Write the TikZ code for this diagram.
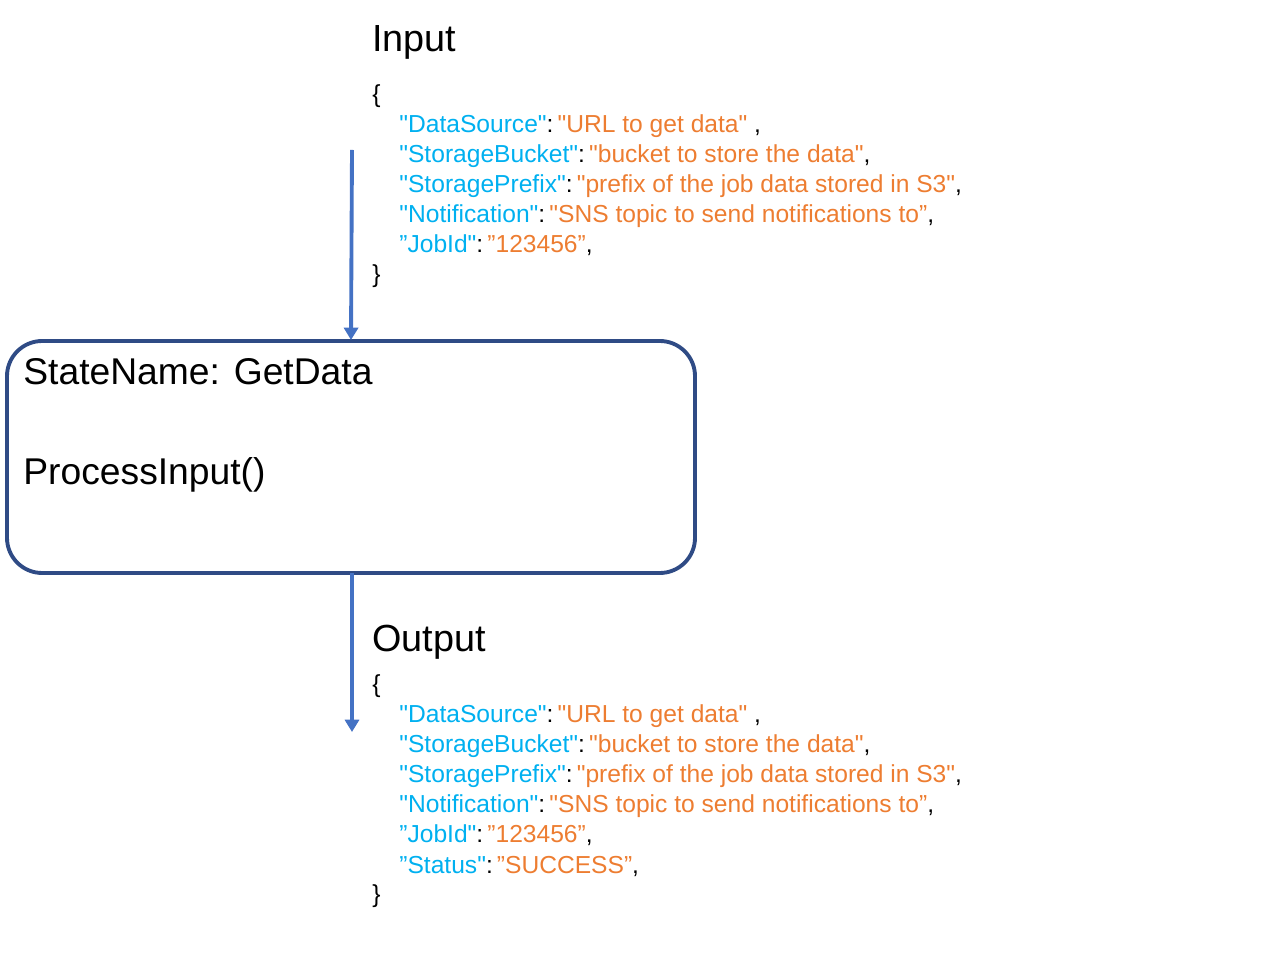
\documentclass[tikz,border=0pt]{standalone}
\usepackage{fontspec}
\setmainfont{Liberation Sans}
\usetikzlibrary{positioning,arrows.meta}
\definecolor{keyblue}{HTML}{00B0F0}
\definecolor{valorange}{HTML}{ED7D31}
\definecolor{boxblue}{HTML}{2F4B85}
\definecolor{arrowblue}{HTML}{4472C4}
\tikzset{
  title/.style={anchor=base west,inner sep=0pt,font=\fontsize{21.5}{24}\selectfont},
  line/.style={anchor=base west,inner sep=0pt,font=\fontsize{14}{16}\selectfont},
  state/.style={anchor=base west,inner sep=0pt,font=\fontsize{21.2}{24}\selectfont},
  flow/.style={draw=arrowblue,line width=2.2pt,-{Triangle[length=7pt,width=8pt]}},
}
\newcommand{\q}{\textquotedbl}
\newcommand{\kv}[2]{\textcolor{keyblue}{#1}:\,\textcolor{valorange}{#2}}
\begin{document}
\begin{tikzpicture}[x=0.02cm,y=-0.02cm]
\useasboundingbox (0,0) rectangle (1279,962);

% state box
\draw[boxblue,line width=2.2pt,rounded corners=20pt] (7,341) rectangle (695,573);
\node[state] (sname) at (23,385) {StateName: GetData};
\node[state] (proc) at (23,485) {ProcessInput()};

% input
\node[title] (input) at (372,52) {Input};
\node[line] (iopen) at (372,103) {\{};
\node[line] (i1) at (399,133) {\kv{\q DataSource\q}{\q URL to get data\q} ,};
\node[line] (i2) at (399,163) {\kv{\q StorageBucket\q}{\q bucket to store the data\q},};
\node[line] (i3) at (399,193) {\kv{\q StoragePrefix\q}{\q prefix of the job data stored in S3\q},};
\node[line] (i4) at (399,223) {\kv{\q Notification\q}{\q SNS topic to send notifications to”},};
\node[line] (i5) at (399,253) {\kv{”JobId\q}{”123456”},};
\node[line] (iclose) at (372,283) {\}};

% output
\node[title] (output) at (372,652) {Output};
\node[line] (oopen) at (372,693) {\{};
\node[line] (o1) at (399,723) {\kv{\q DataSource\q}{\q URL to get data\q} ,};
\node[line] (o2) at (399,753) {\kv{\q StorageBucket\q}{\q bucket to store the data\q},};
\node[line] (o3) at (399,783) {\kv{\q StoragePrefix\q}{\q prefix of the job data stored in S3\q},};
\node[line] (o4) at (399,813) {\kv{\q Notification\q}{\q SNS topic to send notifications to”},};
\node[line] (o5) at (399,843) {\kv{”JobId\q}{”123456”},};
\node[line] (o6) at (399,873) {\kv{”Status\q}{”SUCCESS”},};
\node[line] (oclose) at (372,903) {\}};

% arrows
\coordinate (instart) at (352,150);
\coordinate (inend) at (351,340);
\coordinate (outstart) at (352,573);
\coordinate (outend) at (352,732);
\draw[flow] (instart) -- (inend);
\draw[flow] (outstart) -- (outend);
\end{tikzpicture}
\end{document}
